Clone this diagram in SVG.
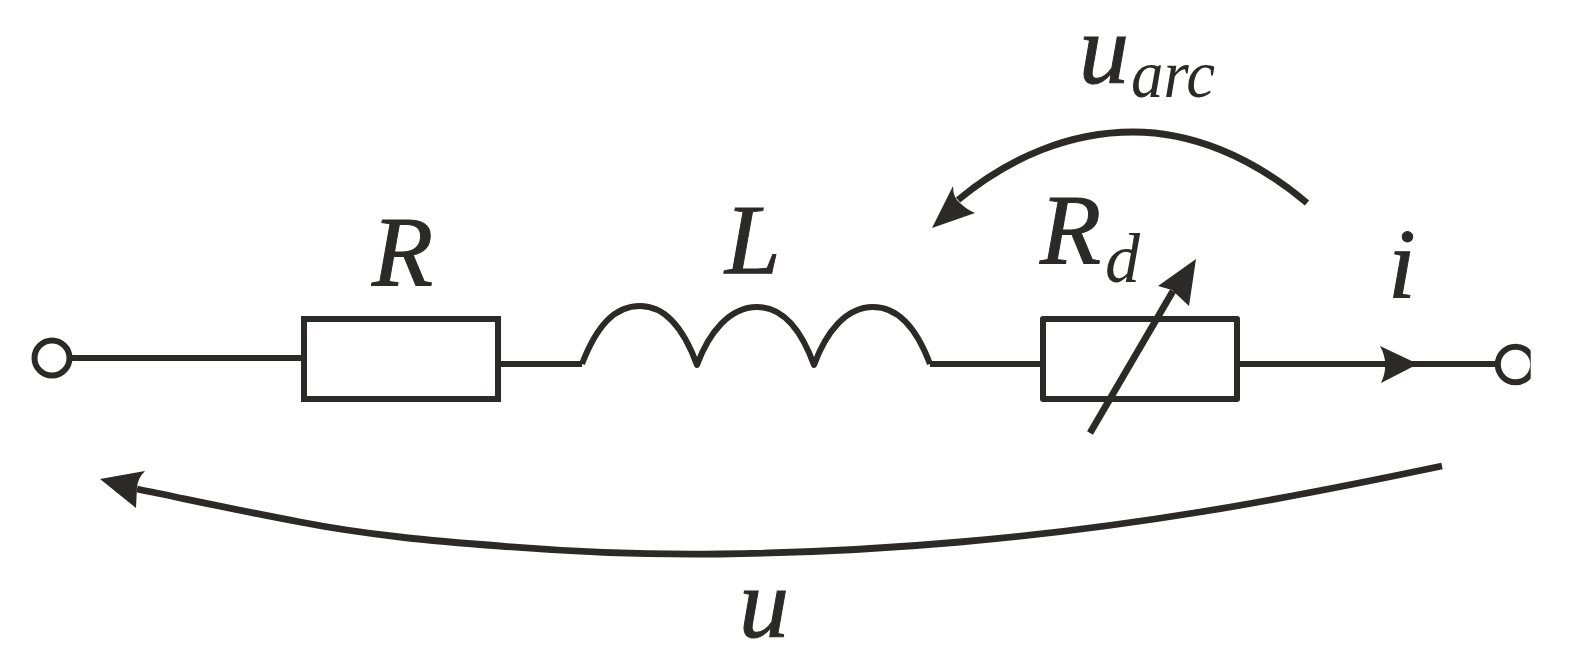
<svg xmlns="http://www.w3.org/2000/svg" width="1584" height="668" viewBox="0 0 1584 668">
<style>
.w{fill:none;stroke:#2b2a28;stroke-width:6;stroke-linejoin:round}
.c{fill:none;stroke:#2b2a28;stroke-width:6.8}
.b{fill:#fff;stroke:#2b2a28;stroke-width:6}
.a{fill:#2b2a28;stroke:none}
text{font-family:"Liberation Serif","Times New Roman",serif;font-style:italic;fill:#2b2a28;font-size:100px;stroke:#2b2a28;stroke-width:1}
.s{font-size:68px;stroke-width:0}
</style>
<defs><clipPath id="c"><rect x="1480" y="330" width="50.7" height="70"/></clipPath></defs>
<rect width="1584" height="668" fill="#fff"/>
<g id="connectors">
<path class="w" d="M70 358H304"/>
<path class="w" d="M494 364H582"/>
<path class="w" d="M930 364H1045"/>
<path class="w" d="M1237 364H1496"/>
<path class="c" d="M1090 433L1173 291"/>
<path class="a" d="M1196 259L1158 286L1172 290L1189 306Z"/>
<path class="a" d="M1380 346L1418 364L1381 383Q1390 364 1380 346Z"/>
<path class="c" d="M1307 203C1250 155 1190 132 1133 132C1070 132 1010 157 958 200"/>
<path class="a" d="M932 228L953 186Q953 198 960 203Q966 209 975 213Z"/>
<path class="c" d="M1442 466C1361 483 1281 499 1200 512C1120 525 1040 535 960 542C880 549 800 553 720 554C647 555 573 552 500 546C433 541 367 535 300 522C246 512 191 500 137 489"/>
<path class="a" d="M100 479L145 471Q138 478 137 487L136 508Z"/>
</g>
<g id="R"><rect class="b" x="304" y="319" width="194" height="80"/><text x="372" y="285">R</text></g>
<g id="L"><path class="w" d="M582 364C597 325 615 306 640 306C668 306 685 332 697 365C709 332 730 307 757 307C785 307 802 332 814 365C826 332 846 307 873 307C900 307 918 332 930 364"/><text x="725" y="273">L</text></g>
<g id="Rd"><rect class="w" x="1043" y="319" width="194" height="80"/><text x="1040" y="263">R</text><text class="s" x="1105" y="282" style="font-size:70px">d</text></g>
<g id="terminal-left"><circle class="b" cx="52" cy="358" r="17.5"/></g>
<g id="terminal-right"><circle class="b" cx="1515.5" cy="364.5" r="17.7" clip-path="url(#c)"/></g>
<g id="labels">
<text x="1079" y="83">u</text><text class="s" x="1131" y="97" textLength="84" lengthAdjust="spacingAndGlyphs">arc</text>
<text x="1388" y="297">i</text>
<text x="739" y="637">u</text>
</g>
</svg>
